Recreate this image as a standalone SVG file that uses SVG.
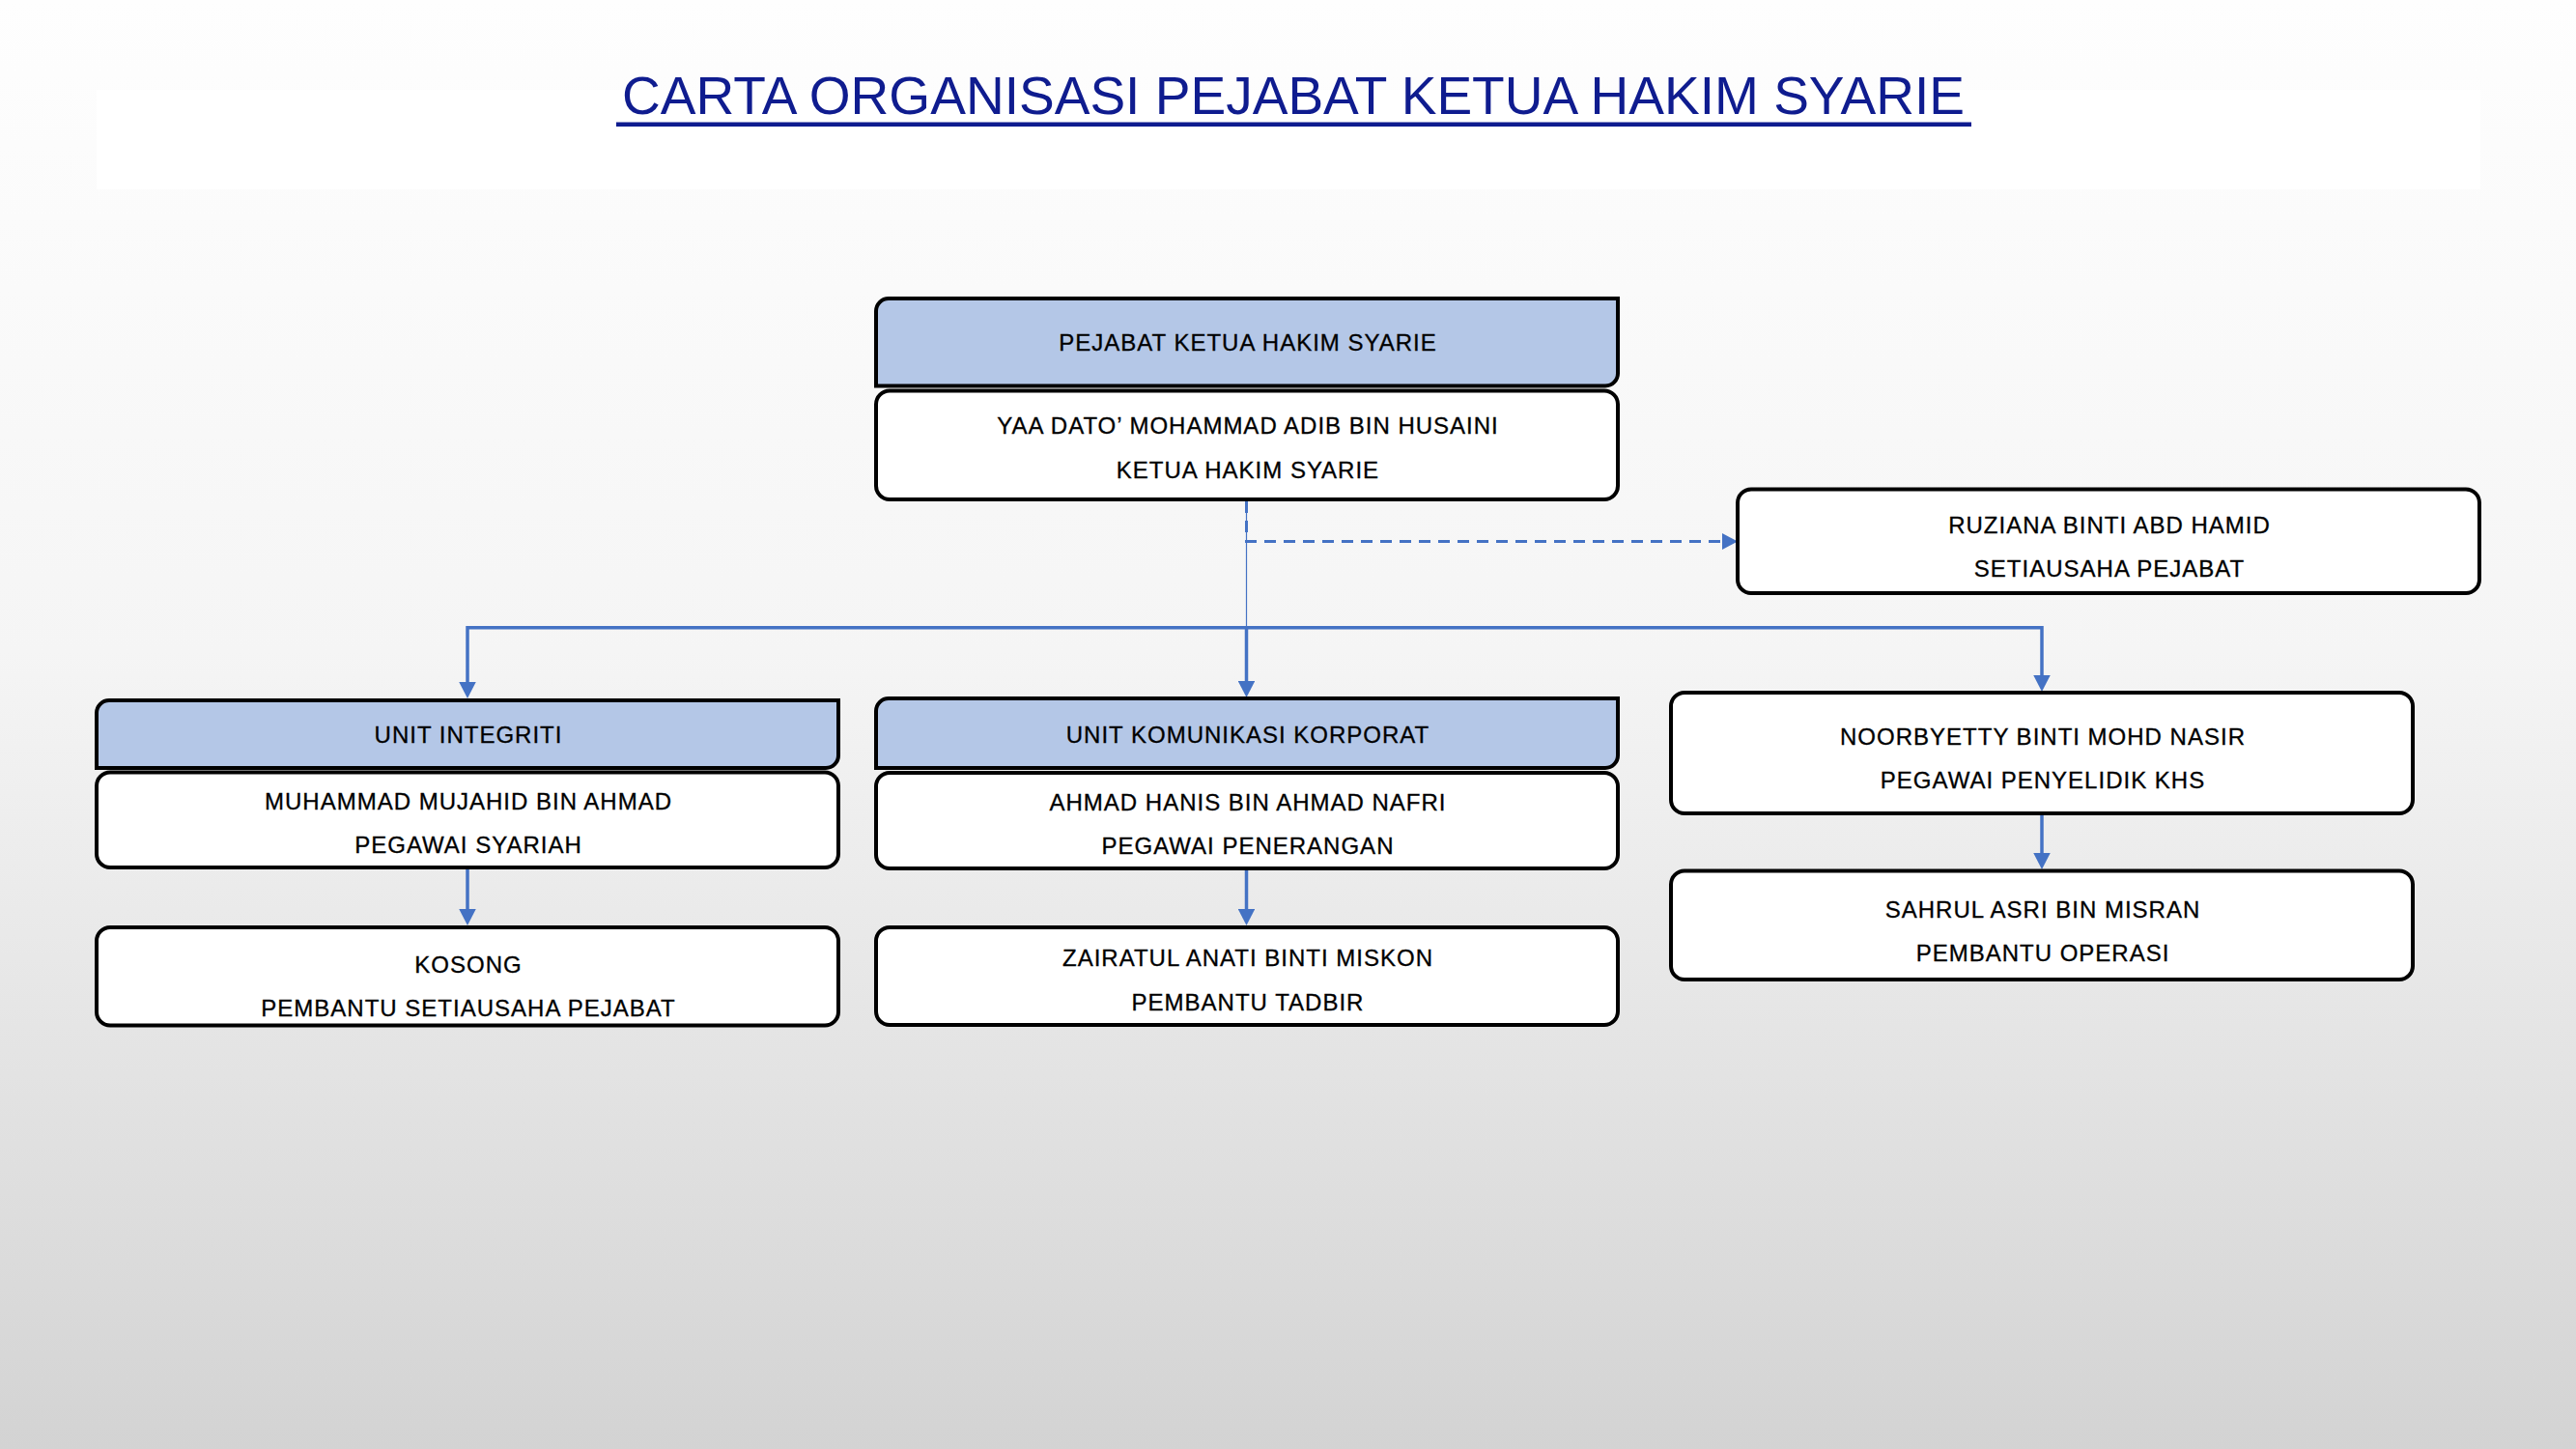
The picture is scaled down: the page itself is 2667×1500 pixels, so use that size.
<svg xmlns="http://www.w3.org/2000/svg" width="2667" height="1500" viewBox="0 0 2667 1500">
  <defs>
    <linearGradient id="bg" x1="0" y1="0" x2="0" y2="1">
      <stop offset="0" stop-color="#FEFEFE"/>
      <stop offset="0.45" stop-color="#F5F5F5"/>
      <stop offset="1" stop-color="#D3D3D3"/>
    </linearGradient>
    <marker id="arr" markerUnits="userSpaceOnUse" viewBox="0 0 17 17.5" markerWidth="17" markerHeight="17.5" refX="7" refY="8.75" orient="auto">
      <path d="M0,0 L17,8.75 L0,17.5 Z" fill="#4472C4"/>
    </marker>
    <marker id="arrd" markerUnits="userSpaceOnUse" viewBox="0 0 16 17" markerWidth="16" markerHeight="17" refX="8" refY="8.5" orient="auto">
      <path d="M0,0 L16,8.5 L0,17 Z" fill="#4472C4"/>
    </marker>
  </defs>
  <style>
    .hdr { fill: #B4C7E7; stroke: #000000; stroke-width: 4; }
    .box { fill: #FFFFFF; stroke: #000000; stroke-width: 4; }
    .t { font-family: "Liberation Sans", Arial, sans-serif; font-size: 24px; letter-spacing: 1px; fill: #000000; stroke: #000000; stroke-width: 0.3; text-anchor: middle; }
    .title { font-family: "Liberation Sans", Arial, sans-serif; font-size: 56px; fill: #0F1C8F; text-anchor: middle; }
    .conn { fill: none; stroke: #4472C4; stroke-width: 3.5; }
    .dash { fill: none; stroke: #4472C4; stroke-width: 3; stroke-dasharray: 12 8; }
    .thin { fill: none; stroke: #4472C4; stroke-width: 1.2; }
  </style>
  <rect x="0" y="0" width="2667" height="1500" fill="url(#bg)"/>
  <rect x="100" y="93" width="2468" height="103" fill="#FFFFFF"/>

  <g id="title">
    <text class="title" x="1339" y="118" textLength="1390" lengthAdjust="spacingAndGlyphs">CARTA ORGANISASI PEJABAT KETUA HAKIM SYARIE</text>
    <rect x="638" y="126.5" width="1403" height="4.5" fill="#0F1C8F"/>
  </g>

  <g id="connectors">
    <line class="thin" x1="1290.5" y1="518" x2="1290.5" y2="648"/>
    <path class="dash" d="M1290.5,519 V560.5 H1791" marker-end="url(#arrd)"/>
    <path class="conn" d="M484,649.7 H2114"/>
    <path class="conn" d="M484,648 V713" marker-end="url(#arr)"/>
    <path class="conn" d="M1290.5,649.7 V712" marker-end="url(#arr)"/>
    <path class="conn" d="M2114,648 V706" marker-end="url(#arr)"/>
    <path class="conn" d="M484,898 V948" marker-end="url(#arr)"/>
    <path class="conn" d="M1290.5,899 V948" marker-end="url(#arr)"/>
    <path class="conn" d="M2114,842 V890" marker-end="url(#arr)"/>
  </g>

  <g id="node-pejabat">
    <path class="hdr" d="M920,309 H1675 V386.5 A13,13 0 0 1 1662,399.5 H907 V322 A13,13 0 0 1 920,309 Z"/>
    <text class="t" x="1292" y="362.7">PEJABAT KETUA HAKIM SYARIE</text>
    <rect class="box" x="907" y="404.5" width="768" height="112.5" rx="14" ry="14"/>
    <text class="t" x="1292" y="449">YAA DATO’ MOHAMMAD ADIB BIN HUSAINI</text>
    <text class="t" x="1292" y="495">KETUA HAKIM SYARIE</text>
  </g>

  <g id="node-ruziana">
    <rect class="box" x="1799" y="506.5" width="768" height="107.5" rx="14" ry="14"/>
    <text class="t" x="2184" y="551.5">RUZIANA BINTI ABD HAMID</text>
    <text class="t" x="2184" y="596.5">SETIAUSAHA PEJABAT</text>
  </g>

  <g id="node-integriti">
    <path class="hdr" d="M113,725 H868 V782 A13,13 0 0 1 855,795 H100 V738 A13,13 0 0 1 113,725 Z"/>
    <text class="t" x="485" y="768.5">UNIT INTEGRITI</text>
    <rect class="box" x="100" y="799.5" width="768" height="98.5" rx="14" ry="14"/>
    <text class="t" x="485" y="838">MUHAMMAD MUJAHID BIN AHMAD</text>
    <text class="t" x="485" y="883">PEGAWAI SYARIAH</text>
  </g>

  <g id="node-kosong">
    <rect class="box" x="100" y="960" width="768" height="101.5" rx="14" ry="14"/>
    <text class="t" x="485" y="1007">KOSONG</text>
    <text class="t" x="485" y="1052">PEMBANTU SETIAUSAHA PEJABAT</text>
  </g>

  <g id="node-komunikasi">
    <path class="hdr" d="M920,723 H1675 V782 A13,13 0 0 1 1662,795 H907 V736 A13,13 0 0 1 920,723 Z"/>
    <text class="t" x="1292" y="769">UNIT KOMUNIKASI KORPORAT</text>
    <rect class="box" x="907" y="800" width="768" height="99" rx="14" ry="14"/>
    <text class="t" x="1292" y="838.5">AHMAD HANIS BIN AHMAD NAFRI</text>
    <text class="t" x="1292" y="884">PEGAWAI PENERANGAN</text>
  </g>

  <g id="node-zairatul">
    <rect class="box" x="907" y="960" width="768" height="101" rx="14" ry="14"/>
    <text class="t" x="1292" y="1000">ZAIRATUL ANATI BINTI MISKON</text>
    <text class="t" x="1292" y="1046">PEMBANTU TADBIR</text>
  </g>

  <g id="node-noorbyetty">
    <rect class="box" x="1730" y="717" width="768" height="125" rx="14" ry="14"/>
    <text class="t" x="2115" y="770.5">NOORBYETTY BINTI MOHD NASIR</text>
    <text class="t" x="2115" y="815.5">PEGAWAI PENYELIDIK KHS</text>
  </g>

  <g id="node-sahrul">
    <rect class="box" x="1730" y="901.5" width="768" height="112.5" rx="14" ry="14"/>
    <text class="t" x="2115" y="949.5">SAHRUL ASRI BIN MISRAN</text>
    <text class="t" x="2115" y="994.5">PEMBANTU OPERASI</text>
  </g>
</svg>
